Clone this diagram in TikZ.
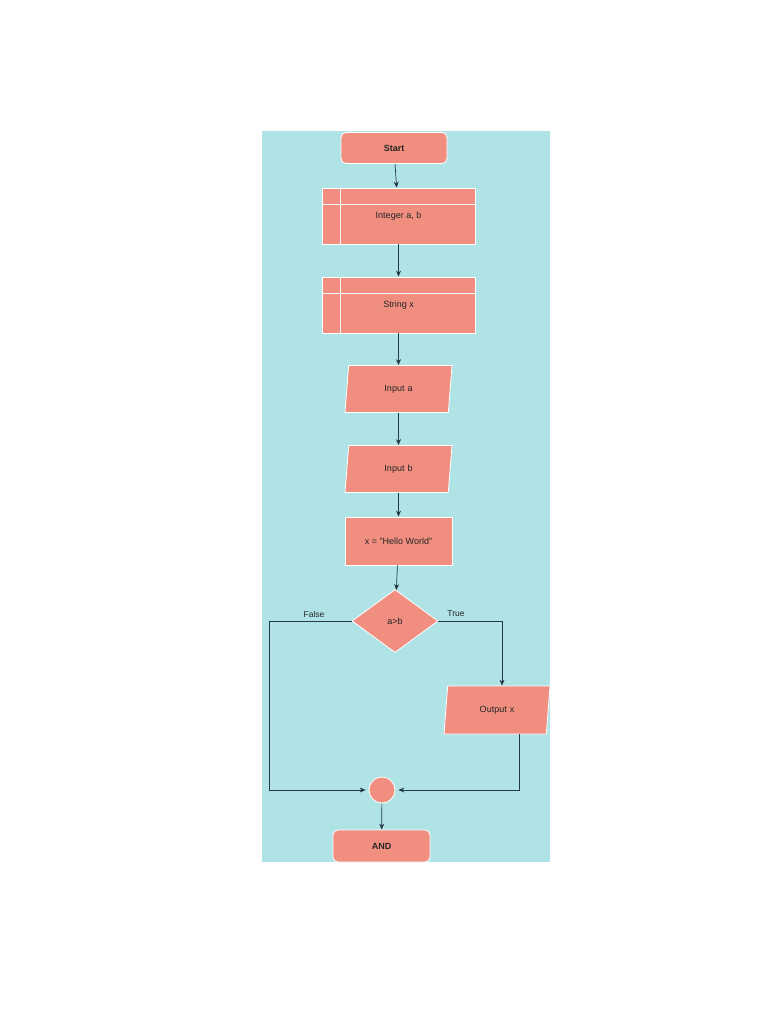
\documentclass[tikz,border=0pt]{standalone}
\usepackage{fontspec}
\setmainfont{Liberation Sans}
\usetikzlibrary{shapes.geometric,arrows.meta}
\definecolor{bg}{HTML}{B0E3E6}
\definecolor{box}{HTML}{F08E80}
\definecolor{ln}{HTML}{23394A}
\begin{document}
\begin{tikzpicture}[x=1pt,y=-1pt,
  base/.style={fill=box,draw=white,line width=0.8pt,font=\fontsize{9}{10}\selectfont,text=black!85},
  term/.style={base,rounded corners=5pt,minimum width=106pt,minimum height=31pt,font=\fontsize{9}{10}\selectfont\bfseries},
  proc/.style={base,minimum width=153pt,minimum height=56pt},
  io/.style={base,trapezium,trapezium left angle=76,trapezium right angle=104,minimum width=84pt,minimum height=47pt,trapezium stretches body,text width=60pt,align=center},
  arr/.style={draw=ln,line width=0.7pt,-{Stealth[length=6pt,width=5pt]}},
  lbl/.style={font=\fontsize{8.5}{10}\selectfont,text=black!85}]
\useasboundingbox (0,0) rectangle (768,1024);
\fill[bg] (262,131) rectangle (550,862);
\node[term] (start) at (394,148) {Start};
\node[proc] (int) at (398.5,216) {Integer a, b};
\draw[white,line width=0.8pt] (322,204) -- (475,204) (340,188) -- (340,244);
\node[proc] (str) at (398.5,305) {String x};
\draw[white,line width=0.8pt] (322,293) -- (475,293) (340,277) -- (340,333);
\node[io,minimum width=107pt] (ina) at (398.5,389) {Input a};
\node[io,minimum width=107pt] (inb) at (398.5,469) {Input b};
\node[base,minimum width=107pt,minimum height=48pt] (hw) at (398.5,541) {x = "Hello World"};
\node[base,diamond,minimum width=86pt,minimum height=63pt,inner sep=0pt] (dec) at (395,621) {a>b};
\node[io,minimum width=106pt,minimum height=48pt] (out) at (497,710) {Output x};
\node[base,circle,minimum size=26pt,inner sep=0pt] (join) at (382,790) {};
\node[term,minimum width=97pt,minimum height=32pt] (end) at (381.5,846) {AND};
\draw[arr] (start) -- (int);
\draw[arr] (int) -- (str);
\draw[arr] (str) -- (ina);
\draw[arr] (ina) -- (inb);
\draw[arr] (inb) -- (hw);
\draw[arr] (hw) -- (dec);
\coordinate (fl) at (269,621);
\coordinate (tr) at (502,621);
\coordinate (ob) at (519,790);
\draw[arr,shorten >=3pt] (dec.west) -- (fl) |- (join.west);
\draw[arr] (dec.east) -- (tr) -- (out.north -| tr);
\draw[arr,shorten >=3pt] (out.south -| ob) -- (ob) -- (join.east);
\draw[arr] (join) -- (end);
\node[lbl] (fal) at (314,614) {False};
\node[lbl] (tru) at (456,614) {True};
\end{tikzpicture}
\end{document}
